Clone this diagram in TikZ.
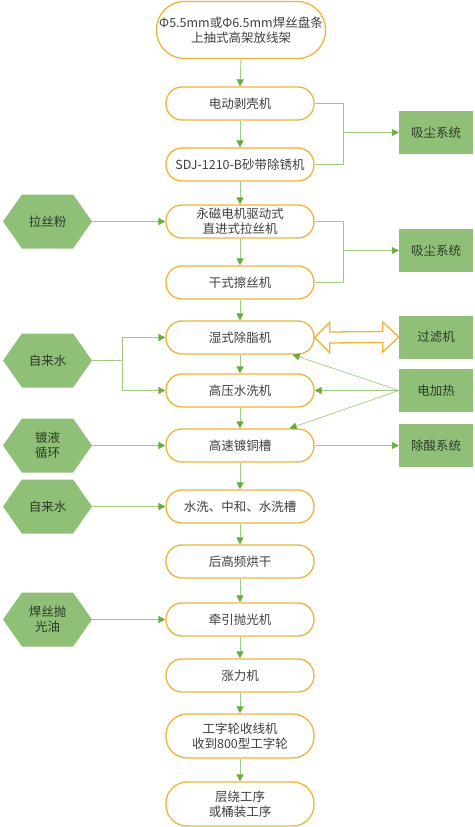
\documentclass[tikz,border=0pt]{standalone}
\usepackage{fontspec}
\setmainfont{Noto Sans CJK SC}
\usetikzlibrary{arrows.meta,shapes.symbols,calc}
\definecolor{gold}{HTML}{EDB43A}
\definecolor{leaf}{HTML}{90C078}
\definecolor{lineg}{HTML}{9FCC85}
\definecolor{tipg}{HTML}{6AAB3E}
\definecolor{txt}{HTML}{404040}
\definecolor{darktxt}{HTML}{2E3A2A}
\begin{document}
\begin{tikzpicture}[x=1pt,y=-1pt,
  every node/.style={font=\fontsize{12.5}{15}\selectfont,text=txt,inner sep=0pt,align=center},
  proc/.style={draw=gold,line width=1.3pt,fill=white,rounded corners=16pt,minimum width=148pt,minimum height=33pt},
  tall/.style={proc,minimum height=44pt,rounded corners=21pt},
  side/.style={fill=leaf,minimum width=74pt,minimum height=43pt,text=darktxt},
  hexa/.style={signal,signal to=east and west,signal pointer angle=110,fill=leaf,minimum width=89pt,minimum height=54pt,text=darktxt},
  flow/.style={draw=lineg,line width=0.9pt,-{Triangle[length=7pt,width=7pt,color=tipg,fill=tipg]}},
  plain/.style={draw=lineg,line width=0.9pt},
  hollow/.style={draw=gold,line width=1.3pt,fill=white,line join=miter}]
\useasboundingbox (0,0) rectangle (474,827);

% main column
\node[proc,minimum width=169pt,minimum height=57pt,rounded corners=28pt] (n1) at (241,30) {Φ5.5mm或Φ6.5mm焊丝盘条\\上抽式高架放线架};
\node[proc] (n2) at (240,103.5) {电动剥壳机};
\node[proc] (n3) at (240,164.5) {SDJ-1210-B砂带除锈机};
\node[proc] (n4) at (240,221.5) {永磁电机驱动式\\直进式拉丝机};
\node[proc] (n5) at (240,282.5) {干式擦丝机};
\node[proc] (n6) at (240,337.5) {湿式除脂机};
\node[proc] (n7) at (240,390.5) {高压水洗机};
\node[proc] (n8) at (240,445.5) {高速镀铜槽};
\node[proc] (n9) at (240,506.5) {水洗、中和、水洗槽};
\node[proc] (n10) at (240,561.5) {后高频烘干};
\node[proc] (n11) at (240,619.5) {牵引抛光机};
\node[proc] (n12) at (240,675.5) {涨力机};
\node[tall] (n13) at (240,736) {工字轮收线机\\收到800型工字轮};
\node[tall] (n14) at (240,804) {层绕工序\\或桶装工序};

% right boxes
\node[side] (r1) at (436,132.5) {吸尘系统};
\node[side] (r2) at (436,250.5) {吸尘系统};
\node[side] (r3) at (436,337) {过滤机};
\node[side] (r4) at (436,390.5) {电加热};
\node[side] (r5) at (436,445.5) {除酸系统};

% left hexagons
\node[hexa] (h1) at (47.5,221.5) {拉丝粉};
\node[hexa] (h2) at (47.5,360.5) {自来水};
\node[hexa] (h3) at (47.5,445.5) {镀液\\循环};
\node[hexa] (h4) at (47.5,506.5) {自来水};
\node[hexa] (h5) at (47.5,619.5) {焊丝抛\\光油};

% vertical flow
\foreach \a/\b in {n1/n2,n2/n3,n3/n4,n4/n5,n5/n6,n6/n7,n7/n8,n8/n9,n9/n10,n10/n11,n11/n12,n12/n13,n13/n14}
  \draw[flow] (\a.south) -- (\b.north);

% dust collection
\coordinate (j1) at (343,132.5);
\coordinate (j2) at (343,250.5);
\draw[plain] (n2.east) -| (j1);
\draw[plain] (n3.east) -| (j1);
\draw[flow] (j1) -- (r1.west);
\draw[plain] (n4.east) -| (j2);
\draw[plain] (n5.east) -| (j2);
\draw[flow] (j2) -- (r2.west);

% inputs from the left
\draw[flow] (h1.east) -- (n4.west);
\coordinate (j3) at (122,360.5);
\draw[plain] (h2.east) -- (j3);
\draw[flow] (j3) |- (n6.west);
\draw[flow] (j3) |- (n7.west);
\draw[flow] (h3.east) -- (n8.west);
\draw[flow] (h4.east) -- (n9.west);
\draw[flow] (h5.east) -- (n11.west);

% outputs to the right
\draw[flow] (n8.east) -- (r5.west);

% electric heating
\coordinate (e6) at ($(n6.south east)+(-22,0)$);
\coordinate (e8) at ($(n8.north east)+(-25,0)$);
\draw[flow,line width=0.7pt] (r4.west) -- (e6);
\draw[flow,line width=0.7pt] (r4.west) -- (n7.east);
\draw[flow,line width=0.7pt] (r4.west) -- (e8);

% hollow double arrow to filter
\coordinate (dl) at (n6.east);
\coordinate (dr) at (r3.west);
\draw[hollow] (dl) -- ++(15,-15) -- ++(0,9.5) -- ($(dr)+(-16,-5.5)$) -- ++(0,-9.5) -- (dr)
  -- ++(-16,15) -- ++(0,-9.5) -- ($(dl)+(15,5.5)$) -- ++(0,9.5) -- cycle;
\end{tikzpicture}
\end{document}
